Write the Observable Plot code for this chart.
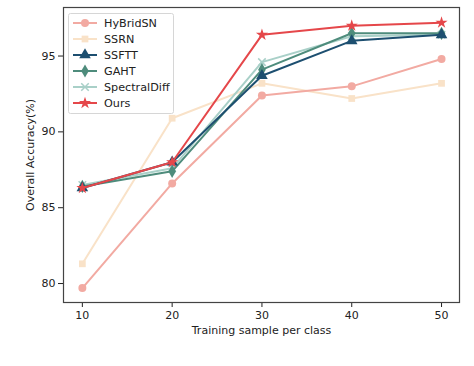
<!DOCTYPE html>
<html><head><meta charset="utf-8">
<script src="https://cdn.jsdelivr.net/npm/d3@7"></script>
<script src="https://cdn.jsdelivr.net/npm/@observablehq/plot@0.6"></script>
<style>
body{margin:0;background:#fff;}
#wrap{position:relative;width:474px;height:366px;}
</style>
</head><body><div id="wrap"></div>
<script>
const samples = [10, 20, 30, 40, 50];
const seriesNames = ["HyBridSN", "SSRN", "SSFTT", "GAHT", "SpectralDiff", "Ours"];
const hybridsn = [79.7, 86.6, 92.4, 93.0, 94.8];
const ssrn = [81.3, 90.9, 93.2, 92.2, 93.2];
const ssftt = [86.3, 88.0, 93.7, 96.0, 96.4];
const gaht = [86.4, 87.4, 94.1, 96.5, 96.5];
const spectraldiff = [86.5, 87.6, 94.6, 96.3, 96.4];
const ours = [86.3, 88.0, 96.4, 97.0, 97.2];
const xTicks = [10, 20, 30, 40, 50];
const yTicks = [80, 85, 90, 95];

const colors = {HyBridSN:"#f2aaa2", SSRN:"#f9e2c8", SSFTT:"#1d4f70", GAHT:"#4e8c7c", SpectralDiff:"#a9d0c8", Ours:"#e5474a"};
const symbols = {HyBridSN:"circle", SSRN:"square", SSFTT:"triangle", GAHT:"diamond", SpectralDiff:"times", Ours:"star"};
const values = {HyBridSN:hybridsn, SSRN:ssrn, SSFTT:ssftt, GAHT:gaht, SpectralDiff:spectraldiff, Ours:ours};
const drawOrder = ["SSRN", "HyBridSN", "SpectralDiff", "GAHT", "SSFTT", "Ours"];
const sizes = {HyBridSN:4, SSRN:3.8, SSFTT:4.3, GAHT:4, SpectralDiff:3.5, Ours:3.8};

const marks = [];
for (const name of drawOrder) {
  const rows = samples.map((s, i) => ({x: s, y: values[name][i]}));
  marks.push(Plot.line(rows, {x: "x", y: "y", stroke: colors[name], strokeWidth: 2}));
  if (symbols[name] === "times") {
    marks.push(Plot.dot(rows, {x: "x", y: "y", symbol: "times", stroke: colors[name], strokeWidth: 1.5, r: sizes[name]}));
  } else {
    marks.push(Plot.dot(rows, {x: "x", y: "y", symbol: symbols[name], fill: colors[name], stroke: "none", r: sizes[name]}));
  }
}
marks.push(Plot.frame({stroke: "#444", strokeWidth: 1.2}));

const chart = Plot.plot({
  width: 474, height: 366,
  marginLeft: 63, marginTop: 7, marginRight: 15, marginBottom: 64,
  style: {fontFamily: "DejaVu Sans", fontSize: "11px", color: "#222", background: "#fff"},
  x: {domain: [7.9, 52], ticks: xTicks, tickSize: 5, tickPadding: 4, label: "Training sample per class", labelAnchor: "center", labelOffset: 31, labelArrow: "none"},
  y: {domain: [78.75, 98.2], ticks: yTicks, tickSize: 5, tickPadding: 3, label: "Overall Accuracy(%)", labelAnchor: "center", labelOffset: 37, labelArrow: "none"},
  marks
});
document.getElementById("wrap").appendChild(chart);

// legend inside the plot area
const svg = d3.select(chart);
const g = svg.append("g").attr("font-family", "DejaVu Sans").attr("font-size", 11.2).attr("text-anchor", "start");
g.append("rect").attr("x", 68.5).attr("y", 13.5).attr("width", 105).attr("height", 100)
  .attr("rx", 2).attr("fill", "#fff").attr("fill-opacity", 0.85).attr("stroke", "#d6d6d6");
const symTypes = {circle:d3.symbolCircle, square:d3.symbolSquare, triangle:d3.symbolTriangle, diamond:d3.symbolDiamond, times:d3.symbolTimes, star:d3.symbolStar};
seriesNames.forEach((name, i) => {
  const y = 23 + i * 16;
  g.append("line").attr("x1", 73).attr("x2", 97).attr("y1", y).attr("y2", y)
    .attr("stroke", colors[name]).attr("stroke-width", 2);
  const r = sizes[name];
  const sym = d3.symbol().type(symTypes[symbols[name]]).size(Math.PI * r * r);
  const p = g.append("path").attr("d", sym()).attr("transform", `translate(85,${y})`);
  if (symbols[name] === "times") p.attr("fill", "none").attr("stroke", colors[name]).attr("stroke-width", 1.5);
  else p.attr("fill", colors[name]);
  g.append("text").attr("x", 104).attr("y", y).attr("dy", "0.35em").attr("fill", "#222").attr("text-anchor", "start").text(name);
});
</script>
</body></html>
